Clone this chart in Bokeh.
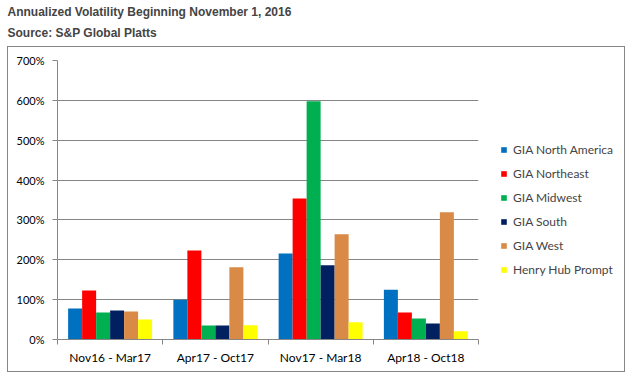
from bokeh.plotting import figure
from bokeh.models import (Range1d, FixedTicker, Legend, LegendItem, ColumnDataSource, Title,
                          LinearAxis)
from bokeh.embed import file_html
from bokeh.resources import INLINE

# ---- data ----
categories = ["Nov16 - Mar17", "Apr17 - Oct17", "Nov17 - Mar18", "Apr18 - Oct18"]
series_names = ["GIA North America", "GIA Northeast", "GIA Midwest", "GIA South",
                "GIA West", "Henry Hub Prompt"]
gia_north_america = [78, 100, 216, 125]
gia_northeast = [123, 223, 354, 68]
gia_midwest = [68, 35, 598, 53]
gia_south = [73, 35, 186, 40]
gia_west = [70, 181, 264, 319]
henry_hub_prompt = [50, 36, 43, 21]
y_ticks = [0, 100, 200, 300, 400, 500, 600, 700]
y_tick_labels = ["0%", "100%", "200%", "300%", "400%", "500%", "600%", "700%"]
title_text = "Annualized Volatility Beginning November 1, 2016"
source_text = "Source: S&P Global Platts"

series_values = [gia_north_america, gia_northeast, gia_midwest, gia_south, gia_west,
                 henry_hub_prompt]
colors = ["#0070C0", "#FF0000", "#00B050", "#002060", "#DA8A47", "#FFFF00"]

GRID = "#868686"
FONT = "Lato"

# chart outer border (drawn as a CSS background on the figure host)
g = f"linear-gradient({GRID},{GRID})"
box_styles = {
    "background-color": "white",
    "background-image": ", ".join([g] * 4),
    "background-size": "618px 1px, 618px 1px, 1px 326px, 1px 326px",
    "background-position": "7px 46px, 7px 371px, 7px 46px, 624px 46px",
    "background-repeat": "no-repeat",
}

p = figure(frame_width=421, frame_height=279, x_range=Range1d(0, len(categories)),
           y_range=Range1d(0, 700), output_backend="svg", toolbar_location=None,
           min_border_left=57, min_border_top=60, min_border_right=154, min_border_bottom=39,
           styles=box_styles)
p.outline_line_color = None
p.background_fill_color = "white"
p.border_fill_alpha = 0

bar_w = 0.133
renderers = []
n = len(series_names)
for i, (name, vals, col) in enumerate(zip(series_names, series_values, colors)):
    xs = [k + 0.5 + (i - (n - 1) / 2) * bar_w for k in range(len(categories))]
    src = ColumnDataSource(dict(x=xs, top=vals))
    r = p.vbar(x="x", top="top", width=bar_w, source=src, fill_color=col, line_color=None)
    renderers.append(r)

# y axis
yax = p.yaxis[0]
yax.ticker = FixedTicker(ticks=y_ticks, minor_ticks=[])
yax.major_label_overrides = {t: l for t, l in zip(y_ticks, y_tick_labels)}
yax.axis_line_color = GRID
yax.major_tick_line_color = GRID
yax.major_tick_out = 5
yax.major_tick_in = 0
yax.minor_tick_line_color = None
yax.major_label_standoff = 8
yax.major_label_text_font = FONT
yax.major_label_text_font_size = "11px"
yax.major_label_text_color = "black"

# x axis: labels at centres, ticks at boundaries
xax = p.xaxis[0]
centers = [k + 0.5 for k in range(len(categories))]
bounds = [k for k in range(len(categories) + 1)]
xax.ticker = FixedTicker(ticks=centers, minor_ticks=bounds)
xax.major_label_overrides = {c: l for c, l in zip(centers, categories)}
xax.axis_line_color = GRID
xax.major_tick_line_color = None
xax.major_tick_out = 0
xax.major_tick_in = 0
xax.minor_tick_line_color = GRID
xax.minor_tick_out = 5
xax.minor_tick_in = 0
xax.major_label_standoff = 5
xax.major_label_text_font = FONT
xax.major_label_text_font_size = "12px"
xax.major_label_text_color = "black"

p.xgrid.grid_line_color = None
p.ygrid.grid_line_color = GRID
p.ygrid.grid_line_width = 1

# legend
legend = Legend(items=[LegendItem(label=nm, renderers=[r]) for nm, r in zip(series_names, renderers)],
                location=(22, 60), glyph_width=7, glyph_height=7, label_height=20, spacing=4,
                padding=0, margin=0, border_line_color=None, background_fill_alpha=0,
                label_text_font=FONT, label_text_font_size="12px", label_standoff=6)
p.add_layout(legend, "right")

# empty spacer between frame and the titles (invisible tick, no label, no line)
spacer = LinearAxis(ticker=FixedTicker(ticks=[2], minor_ticks=[]), axis_line_color=None,
                    major_tick_line_color=None, minor_tick_line_color=None,
                    major_tick_out=17, major_tick_in=0, minor_tick_out=0, minor_tick_in=0,
                    major_label_standoff=0, major_label_overrides={2: ""},
                    major_label_text_color=None)
p.add_layout(spacer, "above")

# titles (first added sits closest to the frame)
p.add_layout(Title(text=source_text, align="left", offset=-50, standoff=7,
                   text_font="Liberation Sans", text_font_style="bold",
                   text_font_size="12px"), "above")
p.add_layout(Title(text=title_text, align="left", offset=-50, standoff=3,
                   text_font="Liberation Sans", text_font_style="bold",
                   text_font_size="12px"), "above")

open("out.html", "w").write(file_html(p, INLINE))
